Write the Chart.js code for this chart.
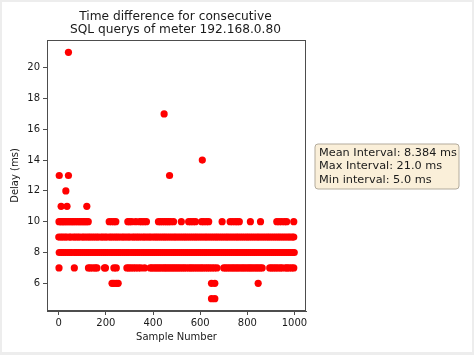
<!DOCTYPE html>
<html>
<head>
<meta charset="utf-8">
<script src="https://cdn.jsdelivr.net/npm/chart.js@4/dist/chart.umd.min.js"></script>
<style>
  html, body { margin: 0; padding: 0; background: #ffffff; }
  #wrap { width: 474px; height: 355px; position: relative; }
</style>
</head>
<body>
<div id="wrap"><canvas id="c" width="474" height="355"></canvas></div>
<script>
// ---- Data (sample number per delay level) ----
const titleLines = ["Time difference for consecutive", "SQL querys of meter 192.168.0.80"];
const xLabel = "Sample Number";
const yLabel = "Delay (ms)";
const xTickValues = [0, 200, 400, 600, 800, 1000];
const yTickValues = [6, 8, 10, 12, 14, 16, 18, 20];
const statsLines = ["Mean Interval: 8.384 ms", "Max Interval: 21.0 ms", "Min interval: 5.0 ms"];

const samplesAt5 = [648, 662];
const samplesAt6 = [226, 234, 244, 252, 648, 662, 846];
const samplesAt7 = [1, 66, 126, 134, 145, 155, 162, 194, 198, 234, 244, 289, 297, 306, 316, 326, 337, 348, 364,
  388, 395, 404, 412, 420, 428, 436, 445, 452, 460, 468, 476, 484, 492, 500, 508, 516, 525, 533, 542, 552, 560,
  568, 577, 586, 595, 604, 612, 622, 631, 640, 650, 660, 671, 700, 708, 717, 726, 735, 743, 752, 760, 769, 778,
  786, 795, 804, 812, 820, 829, 838, 846, 855, 863, 895, 903, 912, 921, 930, 940, 948, 962, 969, 978, 988, 997];
const samplesAt8 = [2, 11, 19, 28, 38, 47, 55, 66, 74, 83, 92, 101, 110, 119, 127, 136, 145, 154, 163, 172, 181,
  190, 198, 207, 217, 226, 235, 244, 253, 261, 271, 280, 289, 297, 307, 316, 325, 334, 342, 352, 361, 370, 379,
  388, 397, 405, 414, 423, 432, 441, 450, 459, 468, 477, 486, 494, 503, 512, 521, 530, 539, 547, 556, 565, 574,
  583, 592, 601, 610, 619, 627, 636, 645, 654, 663, 672, 680, 689, 698, 707, 716, 725, 734, 743, 752, 760, 769,
  778, 787, 796, 805, 814, 823, 831, 840, 849, 858, 867, 876, 885, 894, 903, 911, 920, 929, 938, 947, 956, 965,
  974, 983, 992, 999];
const samplesAt9 = [0, 9, 17, 26, 34, 45, 52, 63, 71, 80, 88, 99, 107, 116, 125, 133, 142, 151, 160, 168, 179,
  187, 196, 204, 215, 223, 232, 241, 249, 258, 268, 276, 285, 294, 302, 313, 321, 330, 338, 347, 357, 365, 374,
  383, 391, 401, 410, 418, 427, 436, 445, 453, 462, 471, 480, 489, 497, 506, 515, 524, 533, 541, 550, 559, 568,
  577, 585, 594, 603, 612, 621, 629, 638, 647, 656, 665, 673, 682, 691, 700, 709, 717, 726, 735, 744, 753, 761,
  770, 779, 788, 797, 805, 814, 823, 832, 841, 849, 858, 867, 876, 885, 893, 902, 911, 920, 929, 937, 946, 955,
  964, 973, 981, 990, 997];
const samplesAt10 = [1, 8, 14, 21, 27, 35, 42, 50, 57, 64, 72, 80, 88, 95, 103, 110, 118, 125, 214, 224, 234, 242,
  293, 300, 310, 327, 343, 352, 362, 372, 423, 431, 440, 449, 458, 466, 475, 487, 520, 551, 560, 570, 580, 606,
  615, 626, 636, 693, 727, 737, 748, 757, 766, 813, 856, 925, 935, 946, 958, 967, 997];
const samplesAt11 = [10, 35, 119];
const samplesAt12 = [30];
const samplesAt13 = [2, 41, 470];
const samplesAt14 = [609];
const samplesAt17 = [447];
const samplesAt21 = [41];

const delayLevels = [5, 6, 7, 8, 9, 10, 11, 12, 13, 14, 17, 21];
const samplesPerLevel = [samplesAt5, samplesAt6, samplesAt7, samplesAt8, samplesAt9, samplesAt10,
  samplesAt11, samplesAt12, samplesAt13, samplesAt14, samplesAt17, samplesAt21];

const points = [];
delayLevels.forEach((lvl, i) => samplesPerLevel[i].forEach(s => points.push({x: s, y: lvl})));

const FONT = "'DejaVu Sans', 'Liberation Sans', sans-serif";
const TXT = '#1a1a1a';
const AXC = '#4d4d4d';

const framePlugin = {
  id: 'framePlugin',
  beforeDraw(chart) {
    const ctx = chart.ctx;
    ctx.save();
    ctx.fillStyle = '#ffffff';
    ctx.fillRect(0, 0, chart.width, chart.height);
    ctx.restore();
  },
  afterDraw(chart) {
    const ctx = chart.ctx;
    const a = chart.chartArea;
    ctx.save();
    // axes frame
    ctx.strokeStyle = AXC;
    ctx.lineWidth = 1;
    ctx.strokeRect(Math.round(a.left) + 0.5, Math.round(a.top) + 0.5,
      Math.round(a.right - a.left) - 1, Math.round(a.bottom - a.top) - 1);
    // title
    ctx.fillStyle = TXT;
    ctx.font = "12.2px " + FONT;
    ctx.textAlign = 'center';
    ctx.textBaseline = 'middle';
    const cx = (a.left + a.right) / 2;
    ctx.fillText(titleLines[0], cx - 1, 17);
    ctx.fillText(titleLines[1], cx - 1, 30);
    // stats box
    const bx = 315, by = 144, bw = 144, bh = 45, r = 3;
    ctx.beginPath();
    ctx.moveTo(bx + r, by);
    ctx.lineTo(bx + bw - r, by);
    ctx.quadraticCurveTo(bx + bw, by, bx + bw, by + r);
    ctx.lineTo(bx + bw, by + bh - r);
    ctx.quadraticCurveTo(bx + bw, by + bh, bx + bw - r, by + bh);
    ctx.lineTo(bx + r, by + bh);
    ctx.quadraticCurveTo(bx, by + bh, bx, by + bh - r);
    ctx.lineTo(bx, by + r);
    ctx.quadraticCurveTo(bx, by, bx + r, by);
    ctx.closePath();
    ctx.fillStyle = '#faefd9';
    ctx.fill();
    ctx.strokeStyle = '#b3ab9c';
    ctx.lineWidth = 1;
    ctx.stroke();
    ctx.fillStyle = TXT;
    ctx.font = "11.3px " + FONT;
    ctx.textAlign = 'left';
    ctx.textBaseline = 'middle';
    statsLines.forEach((t, i) => ctx.fillText(t, 319, 153 + i * 13.3));
    // outer light frame
    ctx.fillStyle = '#ededed';
    ctx.fillRect(0, 0, chart.width, 2);
    ctx.fillRect(0, chart.height - 3, chart.width, 3);
    ctx.fillRect(0, 0, 2, chart.height);
    ctx.fillRect(chart.width - 2, 0, 2, chart.height);
    ctx.restore();
  }
};

new Chart(document.getElementById('c'), {
  type: 'scatter',
  data: {
    datasets: [{
      data: points,
      pointRadius: 3.6,
      pointHoverRadius: 3.6,
      backgroundColor: '#ff0000',
      borderWidth: 0,
      pointBorderWidth: 0
    }]
  },
  options: {
    responsive: false,
    animation: false,
    devicePixelRatio: 1,
    layout: { padding: { left: 0, right: 168, top: 40, bottom: 0 } },
    plugins: { legend: { display: false }, tooltip: { enabled: false }, title: { display: false } },
    scales: {
      x: {
        type: 'linear',
        min: -49.95,
        max: 1048.95,
        afterBuildTicks: (s) => { s.ticks = xTickValues.map(v => ({ value: v })); },
        afterFit: (s) => { s.height = 44; },
        grid: { display: true, drawOnChartArea: false, drawTicks: true, tickLength: 4, color: AXC },
        border: { display: true, color: AXC },
        ticks: { color: TXT, font: { family: FONT, size: 10 }, padding: 2, maxRotation: 0, autoSkip: false,
                 callback: (v) => String(v) },
        title: { display: true, text: xLabel, color: TXT, font: { family: FONT, size: 10 }, padding: { top: 0, bottom: 12 } }
      },
      y: {
        type: 'linear',
        min: 4.2,
        max: 21.8,
        afterBuildTicks: (s) => { s.ticks = yTickValues.map(v => ({ value: v })); },
        afterFit: (s) => { s.width = 47; },
        grid: { display: true, drawOnChartArea: false, drawTicks: true, tickLength: 4, color: AXC },
        border: { display: true, color: AXC },
        ticks: { color: TXT, font: { family: FONT, size: 10 }, padding: 3, autoSkip: false,
                 callback: (v) => String(v) },
        title: { display: true, text: yLabel, color: TXT, font: { family: FONT, size: 10 }, padding: { top: 9, bottom: 0 } }
      }
    }
  },
  plugins: [framePlugin]
});
</script>
</body>
</html>
